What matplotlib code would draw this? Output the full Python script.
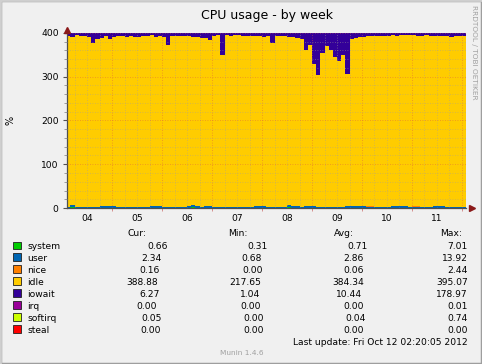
import numpy as np
import matplotlib

matplotlib.use("Agg")
import matplotlib.pyplot as plt
from matplotlib.patches import Rectangle

W, H = 482, 364

# time axis: day of October, 2-hour steps from Oct 4 02:00 to Oct 12 02:00
t_start = 4 + 2 / 24
n = 97
times = [t_start + i / 12 for i in range(n)]

iowait = [6, 10, 5, 6, 8, 9, 22, 14, 12, 8, 15, 9, 8, 7, 9, 8, 10, 9, 7, 8,
          6, 9, 7, 10, 27, 8, 7, 6, 7, 8, 9, 10, 11, 12, 16, 8, 5, 50, 5, 6,
          5, 5, 6, 6, 7, 6, 8, 10, 7, 22, 7, 8, 8, 9, 10, 12, 14, 40, 28, 70,
          96, 45, 30, 40, 55, 64, 50, 93, 14, 10, 9, 8, 7, 7, 6, 6, 7, 6, 6, 7,
          6, 6, 5, 5, 6, 6, 5, 6, 7, 8, 6, 7, 9, 7, 8, 6, 7]
idle = [391, 384, 392, 391, 389, 388, 375, 383, 383, 387, 380, 386, 389, 390, 388, 389, 387, 388, 390, 389,
        389, 386, 388, 387, 370, 389, 390, 391, 390, 387, 383, 385, 386, 383, 379, 389, 392, 347, 392, 391,
        392, 392, 391, 391, 390, 389, 387, 385, 390, 375, 390, 389, 389, 384, 385, 383, 383, 355, 367, 325,
        301, 352, 367, 357, 342, 333, 347, 302, 380, 384, 385, 386, 389, 389, 391, 391, 390, 391, 389, 388,
        389, 389, 392, 391, 390, 391, 392, 391, 388, 387, 389, 390, 388, 390, 389, 391, 390]
user = [2.3, 3.5, 2.3, 2.3, 2.3, 2.3, 2.3, 2.3, 5, 5, 5, 5, 2.3, 2.3, 2.3, 2.3, 2.3, 2.3, 2.3, 2.3,
        5, 5, 5, 2.3, 2.3, 2.3, 2.3, 2.3, 2.3, 5, 5, 5, 2.3, 4.5, 4.5, 2.3, 2.3, 2.3, 2.3, 2.3,
        2.3, 2.3, 2.3, 2.3, 2.3, 4.5, 4.5, 4.5, 2.3, 2.3, 2.3, 2.3, 2.3, 5, 5, 5, 2.3, 4.5, 4.5, 4.5,
        2.3, 2.3, 2.3, 2.3, 2.3, 2.3, 2.3, 4.5, 4.5, 4.5, 4.5, 4.5, 2.3, 2.3, 2.3, 2.3, 2.3, 2.3, 5, 5,
        5, 5, 2.3, 2.3, 2.3, 2.3, 2.3, 2.3, 4.5, 4.5, 4.5, 2.3, 2.3, 2.3, 2.3, 2.3, 2.3]
system = [0.7, 3, 0.7, 0.7, 0.7, 0.7, 0.7, 0.7, 0.7, 0.7, 0.7, 0.7, 0.7, 0.7, 0.7, 0.7, 0.7, 0.7, 0.7, 0.7,
          0.7, 0.7, 0.7, 0.7, 0.7, 0.7, 0.7, 0.7, 0.7, 0.7, 3, 0.7, 0.7, 0.7, 0.7, 0.7, 0.7, 0.7, 0.7, 0.7,
          0.7, 0.7, 0.7, 0.7, 0.7, 0.7, 0.7, 0.7, 0.7, 0.7, 0.7, 0.7, 0.7, 2, 0.7, 0.7, 0.7, 0.7, 0.7, 0.7,
          0.7, 0.7, 0.7, 0.7, 0.7, 0.7, 0.7, 0.7, 0.7, 0.7, 0.7, 0.7, 0.7, 0.7, 0.7, 0.7, 0.7, 0.7, 0.7, 0.7,
          0.7, 0.7, 0.7, 0.7, 0.7, 0.7, 0.7, 0.7, 0.7, 0.7, 0.7, 0.7, 0.7, 0.7, 0.7, 0.7, 0.7]
nice = [0.0] * 68 + [0.5, 0, 0, 0, 1.5, 1.5] + [0.0] * 9 + [1, 1] + [0.0] * 12
irq = [0.0] * n
softirq = [0.05] * n
steal = [0.0] * n

names = ["system", "user", "nice", "idle", "iowait", "irq", "softirq", "steal"]
colors = ["#00CC00", "#0066B3", "#FF8000", "#FFCC00", "#330099", "#990099", "#CCFF00", "#FF0000"]
series = [system, user, nice, idle, iowait, irq, softirq, steal]

cur = ["0.66", "2.34", "0.16", "388.88", "6.27", "0.00", "0.05", "0.00"]
vmin = ["0.31", "0.68", "0.00", "217.65", "1.04", "0.00", "0.00", "0.00"]
vavg = ["0.71", "2.86", "0.06", "384.34", "10.44", "0.00", "0.04", "0.00"]
vmax = ["7.01", "13.92", "2.44", "395.07", "178.97", "0.01", "0.74", "0.00"]

day_labels = ["04", "05", "06", "07", "08", "09", "10", "11"]


def fx(x):
    return x / W


def fy(y):
    return 1 - y / H


fig = plt.figure(figsize=(W / 100, H / 100), dpi=100, facecolor="#F0F0F0")
plt.rcParams["font.family"] = "DejaVu Sans"

# outer shade border
fig.patches.append(Rectangle((0, 0), 1, 1, transform=fig.transFigure, fill=False,
                             edgecolor="#9E9E9E", linewidth=2.5))
fig.add_artist(plt.Line2D([0, 0], [0, 1], transform=fig.transFigure, color="#CFCFCF", linewidth=2))
fig.add_artist(plt.Line2D([0, 1], [1, 1], transform=fig.transFigure, color="#CFCFCF", linewidth=2))

ax = fig.add_axes([fx(67), fy(208), fx(466 - 67), (208 - 33) / H])
ax.set_facecolor("white")

base = np.zeros(n)
for s, c in zip(series, colors):
    top = base + np.array(s, dtype=float)
    ax.fill_between(times, base, top, step="post", color=c, linewidth=0, zorder=2)
    base = top

ax.set_xlim(4.1, 12.08)
ax.set_ylim(0, 400)

# grid drawn over data, as rrdtool does
for k in range(4 * 4 + 1, 4 * 12 + 1):
    xv = k / 4
    if xv < 4.1 or xv > 12.08:
        continue
    if k % 4 == 0:
        ax.axvline(xv, color="#E06040", linewidth=0.6, dashes=(1, 2), zorder=3, alpha=0.6)
    else:
        ax.axvline(xv, color="#A8A090", linewidth=0.6, dashes=(1, 2), zorder=3, alpha=0.6)
for yv in range(20, 401, 20):
    if yv % 100 == 0:
        ax.axhline(yv, color="#E06040", linewidth=0.6, dashes=(1, 2), zorder=3, alpha=0.6)
    else:
        ax.axhline(yv, color="#A8A090", linewidth=0.6, dashes=(1, 2), zorder=3, alpha=0.6)

for side in ["top", "right"]:
    ax.spines[side].set_visible(False)
ax.spines["left"].set_color("#505050")
ax.spines["bottom"].set_color("#505050")
ax.spines["left"].set_linewidth(0.9)
ax.spines["bottom"].set_linewidth(0.9)

ax.set_yticks(range(0, 401, 100))
ax.set_yticklabels([str(v) for v in range(0, 401, 100)])
ax.set_yticks(range(0, 401, 20), minor=True)
ax.set_xticks([d + 0.5 for d in range(4, 12)])
ax.set_xticklabels(day_labels)
ax.set_xticks([d for d in range(5, 13)], minor=True)
ax.tick_params(axis="both", which="major", labelsize=6.6, colors="#505050", labelcolor="black")
ax.tick_params(axis="x", which="major", length=0, pad=4)
ax.tick_params(axis="y", which="major", length=3, pad=3)
ax.tick_params(axis="y", which="minor", length=2, colors="#909090")
ax.tick_params(axis="x", which="minor", length=2, colors="#D08080")

# axis arrows
ax.plot([4.1], [407], marker="^", color="#8B1A1A", markersize=4, clip_on=False, zorder=5)
ax.plot([12.2], [0], marker=">", color="#8B1A1A", markersize=4, clip_on=False, zorder=5)

fig.text(fx(267), fy(18.5), "CPU usage - by week", ha="center", va="baseline", fontsize=9)
fig.text(fx(10), fy(120), "%", rotation=90, ha="center", va="center", fontsize=7)
fig.text(fx(474), fy(5), "RRDTOOL / TOBI OETIKER", rotation=270, ha="center", va="top",
         fontsize=5.3, color="#A0A0A0")

# legend table
fs = 6.6
fig.text(fx(147), fy(236), "Cur:", ha="right", va="baseline", fontsize=fs)
fig.text(fx(248), fy(236), "Min:", ha="right", va="baseline", fontsize=fs)
fig.text(fx(354), fy(236), "Avg:", ha="right", va="baseline", fontsize=fs)
fig.text(fx(462), fy(236), "Max:", ha="right", va="baseline", fontsize=fs)

cur_right = [168, 162, 160, 158, 160, 157, 162, 161]
min_right = [268, 262, 263, 261, 260, 261, 264, 264]
avg_right = [368, 364, 364, 364, 362, 364, 366, 364]
for k, name in enumerate(names):
    yb = 249 + 11.95 * k
    fig.patches.append(Rectangle((fx(13), fy(yb)), 8 / W, 7.5 / H, transform=fig.transFigure,
                                 facecolor=colors[k], edgecolor="#202020", linewidth=0.6))
    fig.text(fx(27), fy(yb), name, ha="left", va="baseline", fontsize=fs)
    fig.text(fx(cur_right[k]), fy(yb), cur[k], ha="right", va="baseline", fontsize=fs)
    fig.text(fx(min_right[k]), fy(yb), vmin[k], ha="right", va="baseline", fontsize=fs)
    fig.text(fx(avg_right[k]), fy(yb), vavg[k], ha="right", va="baseline", fontsize=fs)
    fig.text(fx(468), fy(yb), vmax[k], ha="right", va="baseline", fontsize=fs)

fig.text(fx(468), fy(345), "Last update: Fri Oct 12 02:20:05 2012", ha="right", va="baseline", fontsize=fs)
fig.text(fx(242), fy(355), "Munin 1.4.6", ha="center", va="baseline", fontsize=5.3, color="#A0A0A0")

fig.savefig("out.png", dpi=100, facecolor=fig.get_facecolor())
plt.close(fig)
